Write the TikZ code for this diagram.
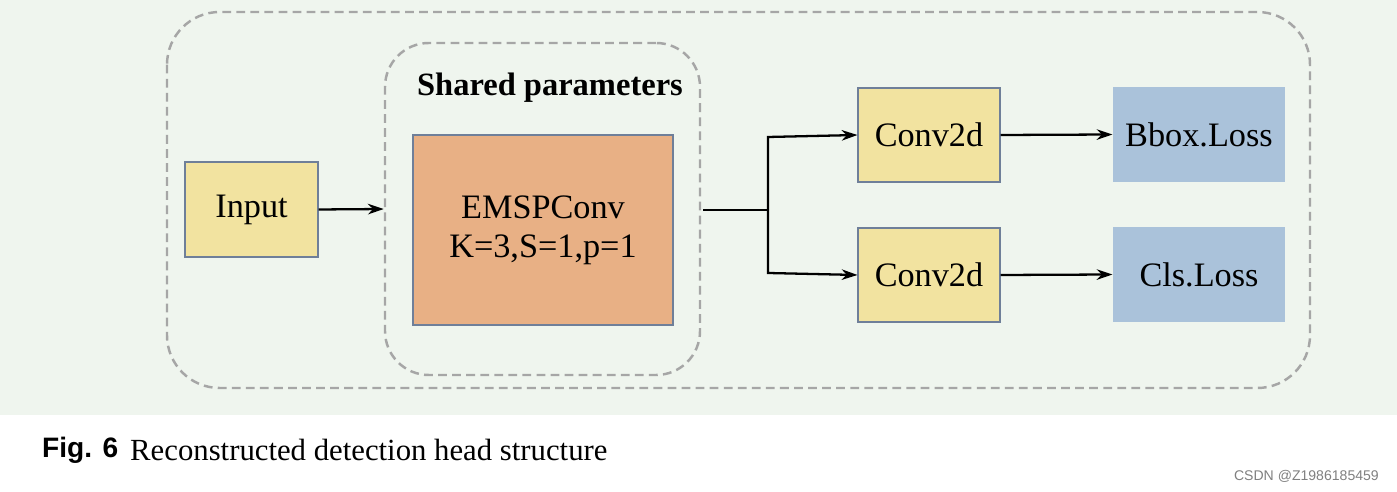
\documentclass[tikz,border=0pt]{standalone}
\usepackage{fontspec}
\setmainfont{Liberation Serif}
\newfontfamily\sans{Liberation Sans}
\usetikzlibrary{arrows.meta}
\definecolor{bg}{HTML}{EFF5EE}
\definecolor{yel}{HTML}{F2E3A0}
\definecolor{ora}{HTML}{E8B085}
\definecolor{blu}{HTML}{AAC2DA}
\definecolor{edge}{HTML}{6F7F99}
\begin{document}
\begin{tikzpicture}[x=0.02cm,y=-0.02cm,
  box/.style={draw=edge,line width=0.6pt,inner sep=0,font=\fontsize{19.5}{22}\selectfont},
  grp/.style={draw=gray!70,line width=1.4pt,dash pattern=on 5pt off 3pt},
  arr/.style={-{Stealth[length=9pt,width=6pt]},line width=1.3pt}]
\fill[white] (0,0) rectangle (1397,492);
\fill[bg] (0,0) rectangle (1397,415);
\useasboundingbox (0,0) rectangle (1397,492);
\draw[grp,rounded corners=30pt] (167,12) rectangle (1310,388);
\node[grp,rounded corners=25pt,minimum width=315*0.02cm,minimum height=332*0.02cm] (sh) at (542.5,209) {};
\node[font=\bfseries\fontsize{18.5}{22}\selectfont] (st) at (550,88) {Shared parameters};
\node[box,fill=yel,minimum width=133*0.02cm,minimum height=95*0.02cm] (in) at (251.5,209.5) {Input};
\node[box,fill=ora,minimum width=260*0.02cm,minimum height=190*0.02cm,align=center] (em) at (543,230) {EMSPConv\\K=3,S=1,p=1};
\node[box,fill=yel,minimum width=142*0.02cm,minimum height=94*0.02cm] (c1) at (929,135) {Conv2d};
\node[box,fill=yel,minimum width=142*0.02cm,minimum height=94*0.02cm] (c2) at (929,275) {Conv2d};
\node[box,fill=blu,draw=none,minimum width=172*0.02cm,minimum height=95*0.02cm] (b1) at (1199,134.5) {Bbox.Loss};
\node[box,fill=blu,draw=none,minimum width=172*0.02cm,minimum height=95*0.02cm] (b2) at (1199,274.5) {Cls.Loss};
\coordinate (j) at (768,210);
\draw[arr] (in.east) -- (sh.west);
\draw[line width=1.3pt] (703,210) -- (j);
\draw[arr] (j) -- (768,137) -- (c1.west);
\draw[arr] (j) -- (768,273) -- (c2.west);
\draw[arr] (c1.east) -- (b1.west);
\draw[arr] (c2.east) -- (b2.west);
\node[anchor=west,font=\sans\bfseries\fontsize{16}{18}\selectfont] (fig) at (36,450) {Fig. 6};
\node[anchor=west,font=\fontsize{17.5}{20}\selectfont] (cap) at (124,450) {Reconstructed detection head structure};
\node[anchor=east,text=gray,font=\sans\fontsize{8}{10}\selectfont] (wm) at (1385,476) {CSDN @Z1986185459};
\end{tikzpicture}
\end{document}
